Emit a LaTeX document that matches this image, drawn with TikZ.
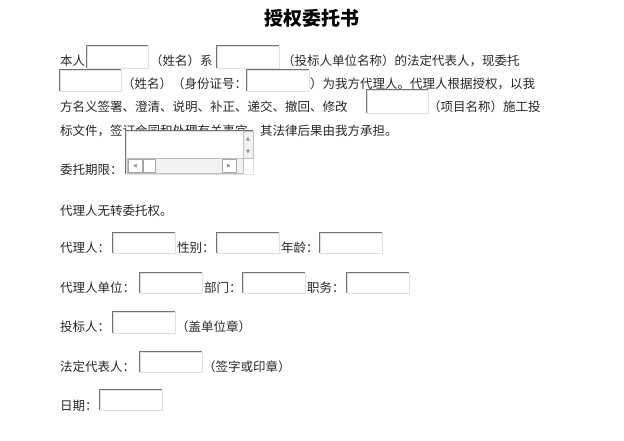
\documentclass[tikz,border=0pt]{standalone}
\usepackage{fontspec}
\newfontfamily\cjk{Noto Sans CJK SC}
\newfontfamily\djv{DejaVu Sans}
\newcommand{\ibox}[5]{%
  \node[inbox,minimum width=#4pt,minimum height=#5pt] (#1) at (#2pt+#4pt/2,-#3pt-#5pt/2) {};
  \draw[darkedge] (#1.south west)--(#1.north west)--(#1.north east);}
\begin{document}
\begin{tikzpicture}[x=1pt,y=1pt,
  txt/.style={anchor=west,inner sep=0pt,font=\cjk\fontsize{12.5}{13}\selectfont,text=black!85},
  inbox/.style={draw=black!12,fill=white,inner sep=0pt,line width=0.8pt},
  darkedge/.style={draw=black!55,line width=1pt},
  sb/.style={draw=black!25,fill=black!5,inner sep=0pt,line width=0.5pt},
  arr/.style={font=\djv\fontsize{5}{5}\selectfont,text=black!45,inner sep=0pt}]
\useasboundingbox (0,0) rectangle (624,-441);
\node[font=\cjk\bfseries\fontsize{19}{21}\selectfont,inner sep=0pt] (title) at (312,-18) {授权委托书};
% line 1
\node[txt] (t1) at (60,-61) {本人};
\ibox{b1}{87}{46}{61}{22}
\node[txt] (t2) at (150,-61) {（姓名）系};
\ibox{b2}{217}{46}{62}{22}
\node[txt] (t3) at (282,-61) {（投标人单位名称）的法定代表人，现委托};
% line 2
\ibox{b3}{60}{70}{61}{21}
\node[txt] (t4) at (122,-84) {（姓名）（身份证号：};
\ibox{b4}{247}{70}{62}{21}
\node[txt] (t5) at (310,-84) {）为我方代理人。代理人根据授权，以我};
% line 3
\node[txt] (t6) at (60,-107) {方名义签署、澄清、说明、补正、递交、撤回、修改};
\ibox{b5}{367}{90}{61}{23}
\node[txt] (t7) at (428,-107) {（项目名称）施工投};
% line 4
\node[txt] (t8) at (60,-131) {标文件，签订合同和处理有关事宜，其法律后果由我方承担。};
% textarea
\node[inbox,minimum width=127pt,minimum height=43pt] (ta) at (126+63.5,-131-21.5) {};
\draw[darkedge] (ta.south west)--(ta.north west)--(ta.north east);
\node[sb,minimum width=10pt,minimum height=27pt] (vs) at (248,-145) {};
\node[arr] (ua) at (248,-139) {▲};
\node[arr] (da) at (248,-152) {▼};
\node[sb,minimum width=116pt,minimum height=15pt] (hs) at (185,-166) {};
\node[arr,draw=black!35,fill=white,minimum width=14pt,minimum height=13pt] (la) at (135,-166) {◀};
\node[draw=black!35,fill=white,inner sep=0pt,minimum width=12pt,minimum height=13pt] (th) at (149,-166) {};
\node[arr,draw=black!35,fill=white,minimum width=14pt,minimum height=13pt] (ra) at (229,-166) {▶};
\node[txt] (t9) at (60,-170) {委托期限：};
\node[txt] (t10) at (60,-211) {代理人无转委托权。};
% agent row
\node[txt] (t11) at (60,-248) {代理人：};
\ibox{b6}{113}{233}{62}{20}
\node[txt] (t12) at (177,-248) {性别：};
\ibox{b7}{217}{233}{62}{20}
\node[txt] (t13) at (281,-248) {年龄：};
\ibox{b8}{320}{233}{62}{20}
% unit row
\node[txt] (t14) at (60,-288) {代理人单位：};
\ibox{b9}{140}{273}{62}{20}
\node[txt] (t15) at (204,-288) {部门：};
\ibox{b10}{243}{273}{62}{20}
\node[txt] (t16) at (307,-288) {职务：};
\ibox{b11}{347}{273}{62}{20}
% bidder
\node[txt] (t17) at (60,-327) {投标人：};
\ibox{b12}{113}{312}{62}{21}
\node[txt] (t18) at (176,-327) {（盖单位章）};
\node[txt] (t19) at (60,-367) {法定代表人：};
\ibox{b13}{140}{352}{62}{20}
\node[txt] (t20) at (203,-367) {（签字或印章）};
\node[txt] (t21) at (60,-406) {日期：};
\ibox{b14}{100}{390}{62}{20}
\end{tikzpicture}
\end{document}
